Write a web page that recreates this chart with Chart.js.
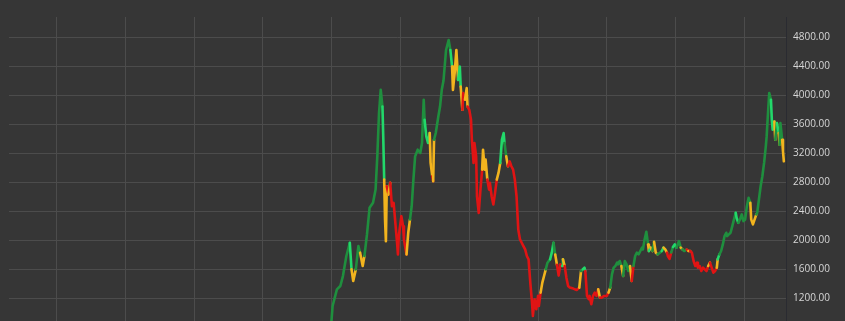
<!DOCTYPE html>
<html>
<head>
<meta charset="utf-8">
<script src="https://cdn.jsdelivr.net/npm/chart.js@4.4.0/dist/chart.umd.min.js"></script>
<style>
  html, body { margin: 0; padding: 0; background: #363636; overflow: hidden; }
  #wrap { position: relative; width: 845px; height: 340px; }
</style>
</head>
<body>
<div id="wrap"><canvas id="priceChart"></canvas></div>
<script>
// trading day index of each sample
const days = [
  399, 401, 406, 410, 413, 417, 421, 423, 425, 428, 431, 433, 436, 438, 441, 444, 448, 451, 453, 455,
  457, 459, 460, 461, 462, 463, 464, 466, 468, 470, 472, 474, 476, 477, 478, 481, 483, 484, 487, 489,
  491, 493, 495, 497, 500, 503, 505, 507, 508, 510, 512, 514, 515, 517, 518, 519, 521, 524, 526, 528,
  530, 533, 536, 538, 540, 541, 543, 545, 547, 549, 550, 552, 553, 555, 557, 558, 560, 562, 563, 565,
  566, 568, 569, 571, 573, 575, 576, 578, 579, 581, 583, 584, 586, 588, 590, 592, 594, 596, 598, 600,
  601, 603, 605, 607, 609, 611, 613, 615, 617, 619, 621, 623, 625, 627, 629, 631, 633, 634, 636, 638,
  640, 641, 643, 645, 647, 649, 651, 654, 656, 658, 660, 662, 664, 666, 668, 669, 671, 673, 675, 677,
  681, 685, 688, 690, 692, 694, 695, 697, 699, 700, 702, 704, 706, 708, 710, 712, 714, 717, 720, 722,
  724, 726, 728, 730, 732, 733, 735, 737, 739, 741, 743, 745, 747, 749, 751, 753, 755, 757, 759, 761,
  762, 764, 766, 768, 769, 771, 773, 775, 777, 779, 782, 784, 786, 788, 790, 791, 793, 795, 797, 799,
  801, 804, 806, 808, 810, 813, 815, 817, 819, 821, 823, 825, 826, 828, 830, 832, 834, 836, 838, 840,
  842, 844, 846, 848, 849, 851, 853, 855, 857, 859, 860, 862, 864, 866, 868, 870, 871, 873, 875, 877,
  879, 881, 883, 885, 887, 888, 890, 892, 894, 895, 897, 899, 901, 903, 905, 906, 908, 909, 911, 912,
  913, 915, 916, 918, 920, 921, 922, 924, 925, 926
];

// closing price
const prices = [
  780, 1090, 1320, 1366, 1503, 1780, 1963, 1596, 1435, 1596, 1917, 1826, 1642, 1780, 2078, 2445, 2514, 2697, 3156, 3753,
  4074, 3844, 3386, 2835, 2284, 1985, 2743, 2628, 2790, 2467, 2514, 2239, 1963, 1802, 2054, 2330, 2192, 2009, 1802, 2101,
  2284, 2467, 2835, 3156, 3248, 3203, 3340, 3937, 3662, 3431, 3340, 3478, 3065, 2881, 2812, 3386, 3478, 3707, 3844, 4074,
  4200, 4625, 4763, 4625, 4395, 4074, 4304, 4625, 4212, 4395, 4120, 3799, 4029, 3937, 4098, 3844, 3799, 3661, 3386, 3065,
  3340, 3156, 2605, 2376, 2697, 2973, 3248, 2973, 3111, 2835, 2697, 2790, 2605, 2491, 2652, 2835, 2927, 3065, 3386, 3478,
  3340, 3156, 3019, 3087, 3019, 2973, 2835, 2605, 2146, 2009, 1963, 1917, 1871, 1780, 1734, 1413, 1137, 953, 1183, 1045,
  1229, 1091, 1275, 1413, 1504, 1596, 1688, 1734, 1826, 1963, 1800, 1660, 1510, 1665, 1642, 1734, 1642, 1481, 1366, 1344,
  1330, 1311, 1344, 1573, 1596, 1619, 1573, 1229, 1183, 1229, 1114, 1229, 1275, 1229, 1320, 1206, 1206, 1229, 1229, 1275,
  1344, 1527, 1619, 1642, 1688, 1665, 1711, 1642, 1504, 1711, 1665, 1573, 1642, 1435, 1642, 1780, 1826, 1803, 1849, 1895,
  1871, 2009, 2115, 1940, 1849, 1895, 1849, 1975, 1826, 1803, 1826, 1849, 1895, 1871, 1826, 1780, 1740, 1830, 1905, 1940,
  1895, 1986, 1895, 1871, 1849, 1871, 1849, 1849, 1826, 1711, 1642, 1688, 1619, 1642, 1573, 1619, 1596, 1573, 1642, 1688,
  1619, 1550, 1573, 1619, 1734, 1803, 1849, 1940, 2055, 2101, 2055, 2078, 2101, 2193, 2285, 2377, 2308, 2239, 2285, 2354,
  2262, 2285, 2468, 2583, 2514, 2285, 2216, 2285, 2354, 2377, 2560, 2743, 2881, 3065, 3294, 3431, 3844, 4029, 3937, 3661,
  3524, 3638, 3386, 3615, 3478, 3317, 3615, 3386, 3225, 3088
];

// trend signal per sample: D strong up, B up, Y caution, R down
const signals = (
  'DDDDDDDBYYDDYYDDDDDD' +
  'DDBBYYYRYRRRRRRRRRRY' +
  'YDDDDDDDDBBBYYRYDDDD' +
  'DDDDBYYYYBBYRRYYRRRR' +
  'RRRRRRYYYYRRRRRRYYBB' +
  'BDYRRRRRRRRRRRRRRRRR' +
  'RRRYYYDDBBDYRRRBYRRR' +
  'RRRYDBBRRRRRRRRYRRRR' +
  'YDDDDDDDYDDDDYRDDDDD' +
  'DDDDYBYDYYDDBYYRRRDB' +
  'BDDYDDRYRRRRRRRRRRRY' +
  'RRRRYBDDDDDDDDDDBBDD' +
  'DDDDDYYYYDDDDDDDDDDB' +
  'BBYDBYDDYY'
).split('');

const yTicks = [800, 1200, 1600, 2000, 2400, 2800, 3200, 3600, 4000, 4400, 4800];
const xGrid = [80, 160, 240, 320, 400, 480, 560, 640, 720, 800, 880];

const signalColors = {
  D: '#1f8f3e',
  B: '#22d86a',
  Y: '#f2b41e',
  R: '#e01414'
};

document.addEventListener('DOMContentLoaded', () => {
  const ctx = document.getElementById('priceChart');
  const points = days.map((d, i) => ({ x: d, y: prices[i] }));

  new Chart(ctx, {
    type: 'line',
    data: {
      datasets: [{
        data: points,
        borderColor: signalColors.D,
        borderWidth: 2.6,
        pointRadius: 0,
        tension: 0,
        borderJoinStyle: 'round',
        borderCapStyle: 'round',
        segment: {
          borderColor: c => signalColors[signals[c.p1DataIndex]] || signalColors.D
        }
      }]
    },
    options: {
      responsive: true,
      maintainAspectRatio: false,
      animation: false,
      layout: { padding: { left: 9, top: 17, right: 0, bottom: 12 } },
      plugins: {
        legend: { display: false },
        tooltip: { enabled: false }
      },
      scales: {
        x: {
          type: 'linear',
          min: 24.5,
          max: 928.5,
          afterBuildTicks: scale => { scale.ticks = xGrid.map(v => ({ value: v })); },
          ticks: { display: false },
          grid: { color: '#4c4c4c', lineWidth: 1, drawTicks: false },
          border: { display: false }
        },
        y: {
          position: 'right',
          min: 800,
          max: 5080,
          afterBuildTicks: scale => { scale.ticks = yTicks.map(v => ({ value: v })); },
          afterFit: scale => { scale.width = 59; },
          ticks: {
            color: '#d6d6d6',
            padding: 7,
            font: { family: 'Open Sans', size: 10 },
            callback: v => Number(v).toFixed(2)
          },
          grid: { color: '#4c4c4c', lineWidth: 1, drawTicks: false },
          border: { display: true, color: '#2a2b31', width: 1 }
        }
      }
    }
  });
});
</script>
</body>
</html>
